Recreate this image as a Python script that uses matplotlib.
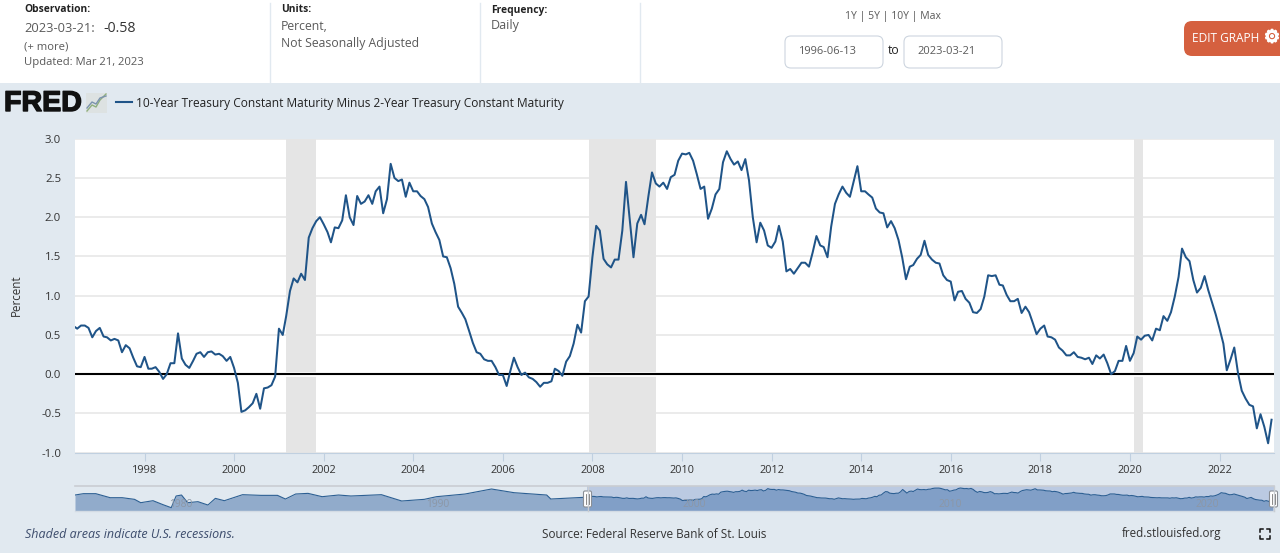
"""FRED screenshot: 10-Year minus 2-Year Treasury constant maturity spread."""

import matplotlib
matplotlib.use("Agg")
import matplotlib.pyplot as plt
import matplotlib.dates as mdates
import matplotlib.patheffects as pe
from matplotlib.patches import FancyBboxPatch, Rectangle
import numpy as np
import pandas as pd

plt.rcParams["font.family"] = ["Open Sans", "DejaVu Sans"]

# first value belongs to 1996-06-13, the rest are monthly from 1996-07
SPREAD = [
    .60, .58, .62, .62, .59, .47, .55, .59, .48, .47,
    .43, .45, .43, .28, .37, .33, .21, .10, .09, .22,
    .07, .07, .09, .03, -.06, 0, .14, .14, .52, .20,
    .12, .08, .17, .26, .28, .22, .28, .29, .25, .26,
    .23, .17, .22, .08, -.11, -.48, -.46, -.42, -.37, -.25,
    -.44, -.18, -.17, -.14, -.03, .58, .50, .74, 1.06, 1.22,
    1.17, 1.28, 1.20, 1.74, 1.86, 1.95, 2.00, 1.91, 1.81, 1.68,
    1.87, 1.86, 1.96, 2.28, 2.00, 1.90, 2.27, 2.17,
    2.20, 2.28, 2.17, 2.33, 2.39, 2.05, 2.23, 2.68, 2.50, 2.46,
    2.48, 2.26, 2.44, 2.33, 2.33, 2.27, 2.23, 2.13, 1.92, 1.81,
    1.71, 1.50, 1.49, 1.35, 1.15, .86, .78, .70, .55, .40,
    .28, .26, .19, .17, .17, .09, -.01, -.01, -.15, .03,
    .21, .09, -.01, .02, -.04, -.06, -.10, -.16, -.11, -.11,
    -.09, .07, .04, -.02, .16, .23, .39, .63, .53, .93,
    .99, 1.49, 1.89, 1.83, 1.47, 1.40, 1.36, 1.46, 1.46, 1.83,
    2.45, 1.96, 1.49, 1.92, 2.03, 1.91, 2.26, 2.57, 2.43, 2.39,
    2.44, 2.36, 2.51, 2.54, 2.72, 2.81, 2.80, 2.82, 2.72, 2.55,
    2.36, 2.39, 1.98, 2.11, 2.29, 2.36, 2.70, 2.84, 2.74, 2.67,
    2.71, 2.60, 2.74, 2.47, 2.00, 1.68, 1.93, 1.83, 1.64, 1.61,
    1.69, 1.89, 1.69, 1.31, 1.34, 1.28, 1.35, 1.42, 1.42, 1.37,
    1.55, 1.76, 1.64, 1.62, 1.49, 1.88, 2.17, 2.29, 2.39, 2.31,
    2.26, 2.46, 2.65, 2.33, 2.33, 2.29, 2.25, 2.11, 2.06, 2.05,
    1.87, 1.95, 1.86, 1.71, 1.49, 1.21, 1.37, 1.39, 1.47, 1.52,
    1.70, 1.52, 1.46, 1.42, 1.41, 1.26, 1.20, 1.18, .94, 1.05,
    1.06, .96, .91, .79, .78, .83, .99, 1.26, 1.25, 1.26,
    1.14, 1.13, 1.01, .93, .93, .96, .78, .86, .79, .65,
    .51, .58, .62, .48, .47, .44, .34, .30, .24, .24,
    .28, .22, .21, .19, .21, .13, .24, .20, .25, .14,
    0, .04, .17, .17, .36, .17, .27, .48, .44, .49,
    .50, .43, .58, .56, .74, .68, .79, .99, 1.24, 1.60,
    1.49, 1.44, 1.20, 1.04, 1.10, 1.25, 1.07, .91, .76, .58,
    .39, .05, .19, .34, .01, -.21, -.31, -.39, -.41, -.69,
    -.51, -.67, -.88, -.58,
]

RECESSION_START = ["2001-03-01", "2007-12-01", "2020-02-01"]
RECESSION_END = ["2001-11-01", "2009-06-01", "2020-04-15"]

# navigator strip, history before the selected range
NAV_YEARS = [
    1976.50, 1976.83, 1977.31, 1977.87, 1978.34, 1978.82, 1979.06, 1979.54, 1979.93,
    1980.25, 1980.44, 1980.65, 1980.89, 1981.29, 1981.68, 1981.97, 1982.32, 1983.03,
    1983.75, 1984.39, 1984.70, 1985.10, 1985.58, 1986.13, 1986.77, 1987.25, 1988.44,
    1989.23, 1990.11, 1990.59, 1991.70, 1992.73, 1993.61, 1994.88, 1995.04, 1996.31,
]
NAV_VALUES = [
    .98, 1.34, 1.34, .27, .27, -.17, -1.06, -.53, -1.59,
    -2.39, .72, .98, -1.06, -.79, -1.68, .09, -.53, 1.07,
    .89, .89, -.08, 1.25, 1.42, .54, .98, .72, 1.07,
    -.61, -.17, .54, 1.25, 2.58, 1.60, .98, -.08, .36,
]
NAV_LABELS = ["1980", "1990", "2000", "2010", "2020"]

YTICKS = [-1.0, -0.5, 0.0, 0.5, 1.0, 1.5, 2.0, 2.5, 3.0]

W, H = 1280, 553
PAGE = "#E1E9F0"
INK = "#333333"
GREY = "#5A5A5A"
LINE = "#1F5488"


def frame(x0, y0, x1, y1):
    """Pixel box (y down from the top) to figure fractions."""
    return [x0 / W, 1 - y1 / H, (x1 - x0) / W, (y1 - y0) / H]


fig = plt.figure(figsize=(W / 100, H / 100), dpi=100, facecolor=PAGE)

# page furniture, drawn in pixel coordinates
bg = fig.add_axes([0, 0, 1, 1], zorder=0)
bg.set_xlim(0, W)
bg.set_ylim(H, 0)
bg.axis("off")
bg.add_patch(Rectangle((0, 0), W, 83, fc="white", ec="none"))
for x in [270, 480, 640]:
    bg.plot([x, x], [3, 83], color=PAGE, lw=1)


def txt(x, y, s, size=8.0, color=GREY, **kw):
    kw.setdefault("va", "center")
    return bg.text(x, y, s, fontsize=size, color=color, **kw)


txt(24, 10, "Observation:", 7.4, "#222222", weight="bold")
txt(24, 28, "2023-03-21:", 9.3)
txt(103, 28, "-0.58", 10.2, "#333333")
txt(24, 47, "(+ more)", 8.1)
txt(24, 63, "Updated: Mar 21, 2023", 8.1)
txt(281, 10, "Units:", 7.4, "#222222", weight="bold")
txt(281, 26, "Percent,", 8.8)
txt(281, 44, "Not Seasonally Adjusted", 8.8)
txt(491, 10, "Frequency:", 7.4, "#222222", weight="bold")
txt(491, 26, "Daily", 9.0)
txt(893, 17, "1Y | 5Y | 10Y | Max", 7.5, ha="center")
for x0, label in [(785, "1996-06-13"), (904, "2023-03-21")]:
    bg.add_patch(FancyBboxPatch((x0, 36), 98, 32, boxstyle="round,pad=0,rounding_size=6",
                                fc="white", ec="#CDD5DF", lw=0.8))
    txt(x0 + 13, 51, label, 8.0)
txt(894, 51, "to", 8.8, "#222222", ha="center")
bg.add_patch(FancyBboxPatch((1184, 21), 110, 35, boxstyle="round,pad=0,rounding_size=8",
                            fc="#D5603F", ec="none"))
txt(1192, 38, "EDIT GRAPH", 8.6, "white")
bg.text(1272, 37.5, "\u2699", fontsize=13, color="white", family="DejaVu Sans",
        ha="center", va="center", path_effects=[pe.withStroke(linewidth=1.0, foreground="white")])

# logo and legend
txt(4, 103, "FRED", 20.6, "#111111", weight="bold", family="Liberation Sans",
    path_effects=[pe.withStroke(linewidth=1.0, foreground="#111111")])
bg.add_patch(Rectangle((86, 93), 21, 20, fc="#DDE2E2", ec="none"))
bg.plot([87, 92, 96, 100, 106], [111, 105, 107, 100, 94], color="#8FAF7E", lw=1)
bg.plot([87, 92, 96, 100, 106], [108, 102, 104, 98, 96], color="#7B93AE", lw=1)
bg.plot([116, 132], [102, 102], color=LINE, lw=1.5)
txt(136, 103, "10-Year Treasury Constant Maturity Minus 2-Year Treasury Constant Maturity",
    8.52, "#222222")
txt(16, 295, "Percent", 8.4, INK, rotation=90, ha="center")

# footer
txt(25, 534, "Shaded areas indicate U.S. recessions.", 9.0, "#3C4C6C", style="italic")
txt(542, 534, "Source: Federal Reserve Bank of St. Louis", 8.5, INK)
txt(1122, 534, "fred.stlouisfed.org", 8.4, INK)
for sx, sy in [(-1, -1), (1, -1), (-1, 1), (1, 1)]:
    cx, cy = 1265 + 5 * sx, 534 + 5 * sy
    bg.plot([cx - 3 * sx, cx, cx], [cy, cy, cy - 3 * sy], color="#111111", lw=1.1)

# main chart
dates = pd.DatetimeIndex([pd.Timestamp("1996-06-13")]).append(
    pd.date_range("1996-07-01", periods=len(SPREAD) - 1, freq="MS"))

ax = fig.add_axes(frame(75, 138.7, 1274, 452.7), zorder=1)
ax.set_facecolor("white")
for start, end in zip(RECESSION_START, RECESSION_END):
    ax.axvspan(pd.Timestamp(start), pd.Timestamp(end), color="#E5E5E5", lw=0, zorder=1)
ax.axhline(0, color="black", lw=1.5, zorder=2,
           path_effects=[pe.withStroke(linewidth=3.4, foreground="white")])
ax.plot(dates, SPREAD, color=LINE, lw=1.45, solid_joinstyle="round", zorder=3)
ax.set_xlim(pd.Timestamp("1996-06-13"), pd.Timestamp("2023-03-21"))
ax.set_ylim(-1.0, 3.0)
ax.set_yticks(YTICKS)
ax.set_yticklabels([f"{v:.1f}" for v in YTICKS], fontsize=8.2, color=INK)
ax.xaxis.set_major_locator(mdates.YearLocator(2))
ax.xaxis.set_major_formatter(mdates.DateFormatter("%Y"))
ax.set_axisbelow(True)
ax.grid(axis="y", color="#E6E6E6", lw=1.1)
ax.tick_params(axis="y", length=0, pad=10)
ax.tick_params(axis="x", length=6, width=0.8, color="#C0D0E0", labelsize=7.8,
               labelcolor=INK, pad=3)
for side in ["top", "left", "right"]:
    ax.spines[side].set_visible(False)
ax.spines["bottom"].set_color("#C0D0E0")

# navigator
dec_years = np.array(dates.year + (dates.dayofyear - 1) / 365.25)
nav = fig.add_axes(frame(75, 486, 1274, 511), zorder=1)
nav.patch.set_alpha(0)
NAV_BOTTOM = -3.27
nav.axvspan(dec_years[0], 2023.22, color="#BBCAE2", lw=0)
nav.fill_between(NAV_YEARS + [dec_years[0]], NAV_VALUES + [SPREAD[0]], NAV_BOTTOM,
                 color="#91ABCB", lw=0)
nav.fill_between(dec_years, SPREAD, NAV_BOTTOM, color="#819FC7", lw=0)
nav.plot(NAV_YEARS + [dec_years[0]], NAV_VALUES + [SPREAD[0]], color="#2C5F93", lw=0.8)
nav.plot(dec_years, SPREAD, color="#2C5F93", lw=0.8)
nav.set_xlim(1976.5, 2023.22)
nav.set_ylim(NAV_BOTTOM, 3.38)
nav.axis("off")
nav.plot([1976.5, 2023.22], [3.38, 3.38], color="#C9CDD2", lw=1.2, clip_on=False)
nav.plot([1976.5, 2023.22], [NAV_BOTTOM, NAV_BOTTOM], color="#D3DBE4", lw=1, clip_on=False)
for label in NAV_LABELS:
    nav.text(int(label) + 0.62, -1.6, label, fontsize=7.4, color="#8C97A6", ha="center", va="center")

# range handles sit on top of the navigator
top = fig.add_axes([0, 0, 1, 1], zorder=2)
top.set_xlim(0, W)
top.set_ylim(H, 0)
top.axis("off")
for hx in [587.5, 1273.5]:
    top.plot([hx, hx], [486, 511], color="#C9CDD2", lw=1)
    top.add_patch(FancyBboxPatch((hx - 4, 491), 8, 16, boxstyle="round,pad=0,rounding_size=1.5",
                                 fc="white", ec="#8A8F96", lw=0.8))
    top.plot([hx - 1.2, hx - 1.2], [494, 504], color="#777777", lw=0.6)
    top.plot([hx + 1.2, hx + 1.2], [494, 504], color="#777777", lw=0.6)

fig.savefig("out.png", dpi=100, facecolor=fig.get_facecolor())
